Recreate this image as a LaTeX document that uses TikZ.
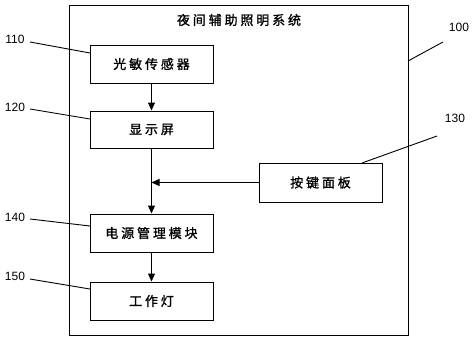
\documentclass[tikz,border=0pt]{standalone}
\usepackage{fontspec}
\setmainfont{Liberation Sans}
\newfontfamily\cjk[LetterSpace=22,FakeBold=1.2]{Noto Sans CJK SC}
\usetikzlibrary{arrows.meta,calc}
\begin{document}
\begin{tikzpicture}[x=1pt,y=-1pt,
  box/.style={draw,line width=1pt,minimum width=123pt,minimum height=38pt,inner sep=0pt,font=\cjk\fontsize{13}{15}\selectfont},
  conn/.style={line width=1pt,-{Triangle[length=8pt,width=7pt]}},
  lead/.style={line width=0.9pt},
  num/.style={font=\fontsize{12}{14}\selectfont,inner sep=0pt}]
\useasboundingbox (0,0) rectangle (474,340);
\node[draw,line width=1pt,minimum width=339pt,minimum height=330pt,inner sep=0pt] (sys) at (238.5,170) {};
\node[font=\cjk\fontsize{13}{15}\selectfont,inner sep=0pt] (title) at (239,20) {夜间辅助照明系统};
\node[box] (b110) at (151.5,64) {光敏传感器};
\node[box,minimum height=37pt] (b120) at (151.5,129.5) {显示屏};
\node[box,minimum height=39pt] (b130) at (320.5,182.5) {按键面板};
\node[box] (b140) at (151.5,233) {电源管理模块};
\node[box] (b150) at (151.5,301) {工作灯};
\coordinate (j) at (151.5,182.5);
\draw[conn] (b110) -- (b120);
\draw[line width=1pt] (b120.south) -- (j);
\draw[conn] (j) -- (b140.north);
\draw[conn] (b130.west) -- (j);
\draw[conn] (b140) -- (b150);
% labels
\node[num] (l110) at (15,39) {110};
\node[num] (l120) at (15,107) {120};
\node[num] (l140) at (15,217) {140};
\node[num] (l150) at (15,276) {150};
\node[num] (l100) at (459,27) {100};
\node[num] (l130) at (455,118) {130};
\coordinate (s110) at (30,42); \coordinate (e110) at (90,53);
\coordinate (s120) at (30,109); \coordinate (e120) at (90,119);
\coordinate (s140) at (30,219); \coordinate (e140) at (90,226);
\coordinate (s150) at (30,279); \coordinate (e150) at (90,289);
\coordinate (s100) at (443,42); \coordinate (e100) at (408,61);
\coordinate (s130) at (437,136); \coordinate (e130) at (362,163);
\draw[lead] (s110) -- (e110);
\draw[lead] (s120) -- (e120);
\draw[lead] (s140) -- (e140);
\draw[lead] (s150) -- (e150);
\draw[lead] (s100) -- (e100);
\draw[lead] (s130) -- (e130);
\end{tikzpicture}
\end{document}
